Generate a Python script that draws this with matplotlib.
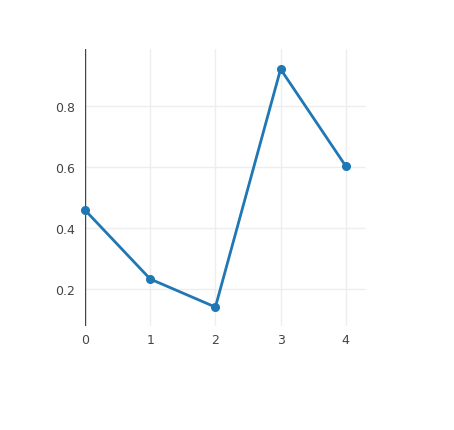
import matplotlib
matplotlib.use("Agg")
import matplotlib.pyplot as plt

plt.rcParams['font.family'] = ['DejaVu Sans']

x_values = [0, 1, 2, 3, 4]
y_values = [0.459, 0.233, 0.141, 0.921, 0.603]
x_ticks = [0, 1, 2, 3, 4]
y_ticks = [0.2, 0.4, 0.6, 0.8]

fig = plt.figure(figsize=(4.54, 4.31), dpi=100)
ax = fig.add_axes([85 / 454, (431 - 327) / 431, (366 - 85) / 454, (327 - 50) / 431])

ax.plot(x_values, y_values, color='#1f77b4', linewidth=2, marker='o',
        markersize=5.5, zorder=3, clip_on=False)

ax.set_xlim(0, 4.31)
ax.set_ylim(0.079, 0.987)
ax.set_xticks(x_ticks)
ax.set_yticks(y_ticks)
ax.set_yticklabels(["0.2", "0.4", "0.6", "0.8"])

ax.grid(True, color='#eeeeee', linewidth=1)
ax.set_axisbelow(True)
for s in ax.spines.values():
    s.set_visible(False)
ax.axvline(0, color='#444444', linewidth=1, zorder=2)

ax.tick_params(length=0, labelsize=9, labelcolor='#444444')
ax.tick_params(axis='y', pad=7)
ax.tick_params(axis='x', pad=5)

fig.savefig('out.png', dpi=100)
